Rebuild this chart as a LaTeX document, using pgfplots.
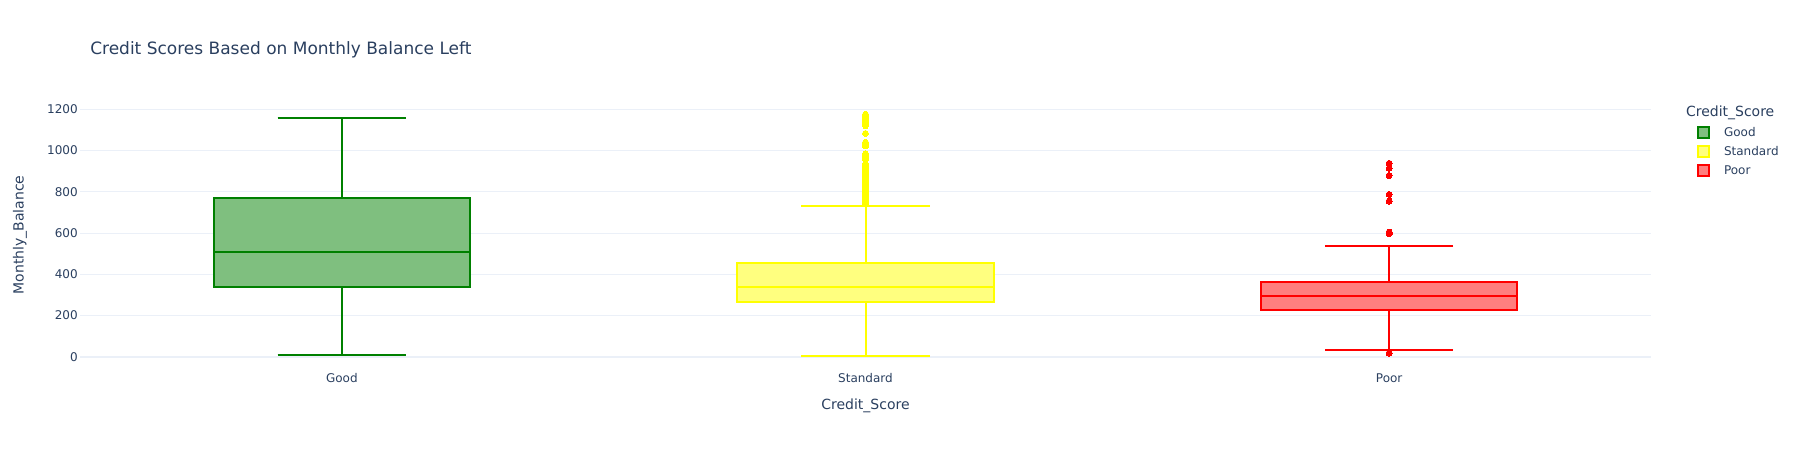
\documentclass[border=0pt]{standalone}
\usepackage{fontspec}
\setmainfont{DejaVu Sans}
\usepackage{pgfplots}
\pgfplotsset{compat=1.18}
\usepgfplotslibrary{statistics}

\definecolor{txt}{HTML}{2A3F5F}
\definecolor{gridc}{HTML}{EBF0F8}
\definecolor{goodline}{RGB}{0,128,0}
\definecolor{goodfill}{RGB}{127,191,127}
\definecolor{stdline}{RGB}{255,255,0}
\definecolor{stdfill}{RGB}{255,255,127}
\definecolor{poorline}{RGB}{255,0,0}
\definecolor{poorfill}{RGB}{255,127,127}

\pgfplotsset{
  swatch/.style={legend image code/.code={%
    \draw[##1, line width=1.5pt] (0pt,-4.25pt) rectangle (8.5pt,4.25pt);}},
  boxstyle/.style n args={2}{draw=#1, fill=#2, line width=1.5pt,
    mark=*, mark size=2.25pt, mark options={solid, draw=#1, fill=#1, line width=0pt},
    forget plot},
}

\begin{document}
\begin{tikzpicture}
\useasboundingbox (0pt,0pt) rectangle (1347pt,337.5pt);

\begin{axis}[
  at={(60pt,60pt)}, anchor=south west,
  width=1178.25pt, height=202.5pt, scale only axis,
  boxplot/draw direction=y,
  xmin=-0.5, xmax=2.5, ymin=-64, ymax=1245,
  axis line style={draw=none},
  major tick length=0pt,
  xtick={0,1,2}, xticklabels={Good,Standard,Poor},
  ytick={200,400,...,1200},
  extra y ticks={0},
  extra y tick style={grid style={draw=gridc, line width=1.5pt}},
  ymajorgrids,
  grid style={draw=gridc, line width=0.75pt},
  /pgf/number format/assume math mode=true,
  /pgf/number format/1000 sep={},
  ticklabel style={font=\fontsize{9pt}{11pt}\selectfont, text=txt},
  yticklabel style={inner sep=0pt, anchor=east, xshift=-1.5pt},
  xticklabel style={inner sep=0pt, anchor=north, text height=6.5pt, text depth=1.5pt, yshift=-3pt},
  xlabel={Credit\_Score},
  ylabel={Monthly\_Balance},
  label style={font=\fontsize{10.5pt}{12pt}\selectfont, text=txt},
  xlabel style={at={(axis description cs:0.5,0)}, anchor=center, yshift=-27pt},
  ylabel style={at={(axis description cs:-0.0382,0.5)}, anchor=center},
  legend style={at={(rel axis cs:1.0291,0.9037)}, anchor=north west,
    draw=none, fill=none, inner sep=0pt, outer sep=0pt,
    row sep=4.25pt, column sep=10.5pt,
    nodes={inner sep=0pt, text=txt, text height=7pt, text depth=2pt,
      font=\fontsize{9pt}{11pt}\selectfont}},
  legend cell align=left,
]

% Good
\addplot[boxstyle={goodline}{goodfill},
  boxplot prepared={lower whisker=10, lower quartile=337, median=509,
    upper quartile=771, upper whisker=1159,
    draw position=0, box extend=0.49, whisker extend=0.245}]
  coordinates {};

% Standard
\addplot[boxstyle={stdline}{stdfill},
  boxplot prepared={lower whisker=6, lower quartile=267, median=340,
    upper quartile=455, upper whisker=731,
    draw position=1, box extend=0.49, whisker extend=0.245}]
  table[row sep=\\, y index=0] {
    v\\ 740\\ 745\\ 750\\ 755\\ 760\\ 766\\ 772\\ 778\\ 784\\ 790\\ 796\\ 802\\
    808\\ 814\\ 820\\ 826\\ 833\\ 840\\ 847\\ 855\\ 862\\ 870\\ 878\\ 886\\
    895\\ 903\\ 910\\ 918\\ 925\\ 935\\ 958\\ 965\\ 975\\ 985\\ 1022\\ 1030\\
    1040\\ 1083\\ 1120\\ 1128\\ 1136\\ 1144\\ 1152\\ 1160\\ 1168\\ 1176\\
  };

% Poor
\addplot[boxstyle={poorline}{poorfill},
  boxplot prepared={lower whisker=34, lower quartile=229, median=293,
    upper quartile=362, upper whisker=537,
    draw position=2, box extend=0.49, whisker extend=0.245}]
  table[row sep=\\, y index=0] {
    v\\ 18\\ 597\\ 605\\ 755\\ 787\\ 879\\ 914\\ 938\\
  };

\addlegendimage{swatch, draw=goodline, fill=goodfill}
\addlegendentry{Good}
\addlegendimage{swatch, draw=stdline, fill=stdfill}
\addlegendentry{Standard}
\addlegendimage{swatch, draw=poorline, fill=poorfill}
\addlegendentry{Poor}
\end{axis}

\node[anchor=west, inner sep=0pt, text=txt, font=\fontsize{12.75pt}{15pt}\selectfont]
  at (67.5pt,300pt) {Credit Scores Based on Monthly Balance Left};
\node[anchor=west, inner sep=0pt, text=txt, font=\fontsize{10.5pt}{12pt}\selectfont]
  at (1264.3pt,252.5pt) {Credit\_Score};
\end{tikzpicture}
\end{document}
